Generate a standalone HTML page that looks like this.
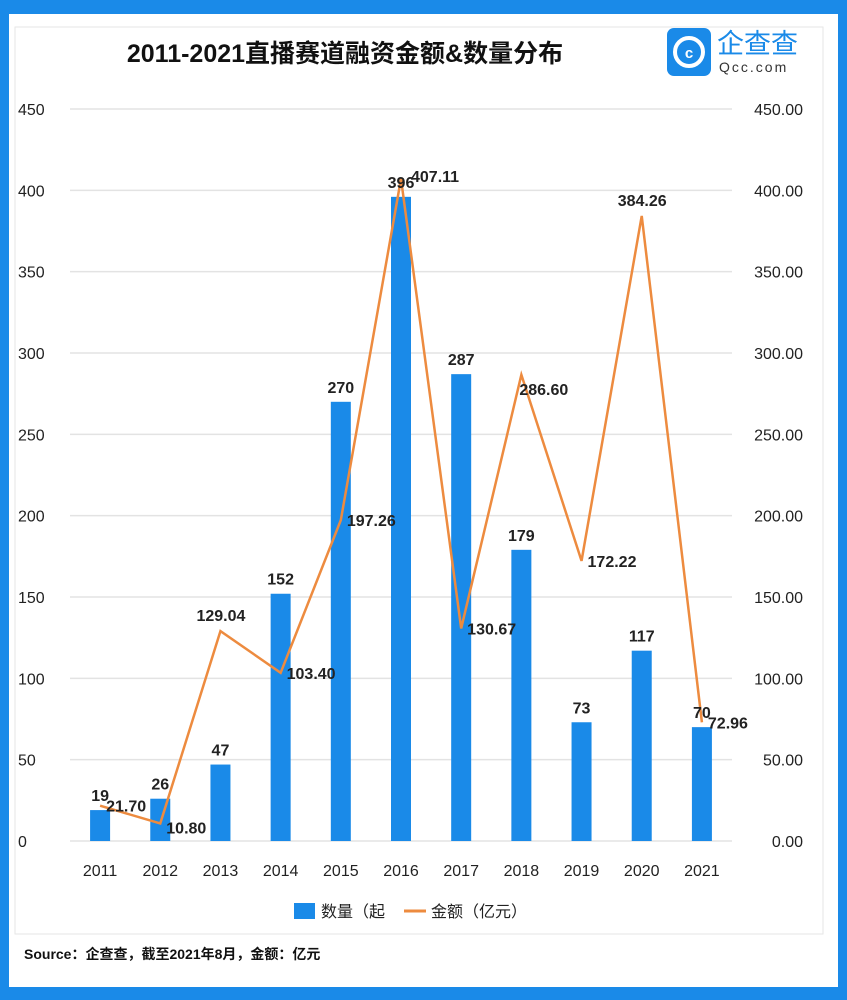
<!DOCTYPE html>
<html><head><meta charset="utf-8"><style>
body{margin:0;width:847px;height:1000px;background:#1a8ae8;font-family:"Liberation Sans","Noto Sans CJK SC",sans-serif;overflow:hidden}
#panel{position:absolute;left:9px;top:14px;width:829px;height:973px;background:#fff}
svg text{font-family:"Liberation Sans","Noto Sans CJK SC",sans-serif}
</style></head><body>
<div id="panel"></div>
<svg id="chart" width="847" height="1000" style="position:absolute;left:0;top:0">
<rect x="15" y="27" width="808" height="907" fill="none" stroke="#e6e6e6"/>
<text x="345" y="62" font-size="25" font-weight="bold" text-anchor="middle" fill="#111">2011-2021直播赛道融资金额&amp;数量分布</text>
<g>
<rect x="667" y="28" width="44" height="48" rx="7" fill="#1a8ae8"/>
<circle cx="689" cy="52" r="14" fill="none" stroke="#fff" stroke-width="4"/>
<text x="689" y="58" font-size="15" font-weight="bold" fill="#fff" text-anchor="middle">c</text>
<text x="717" y="53" font-size="27" fill="#1a8ae8">企查查</text>
<text x="719" y="72" font-size="14" fill="#333" letter-spacing="2">Qcc.com</text>
</g>
<g id="grid"></g><g id="bars"></g><g id="line"></g><g id="labels"></g>
<g>
<rect x="294" y="903" width="21" height="16" fill="#1a8ae8"/>
<text x="321" y="917" font-size="16" fill="#222">数量（起</text>
<line x1="404" y1="911" x2="426" y2="911" stroke="#ed8b3f" stroke-width="3"/>
<text x="431" y="917" font-size="16" fill="#222">金额（亿元）</text>
</g>
<text x="24" y="959" font-size="14" font-weight="bold" fill="#111">Source：企查查，截至2021年8月，金额：亿元</text>
</svg>
<script>
const categories=["2011","2012","2013","2014","2015","2016","2017","2018","2019","2020","2021"];
const counts=[19,26,47,152,270,396,287,179,73,117,70];
const amounts=[21.70,10.80,129.04,103.40,197.26,407.11,130.67,286.60,172.22,384.26,72.96];
const leftTicks=[0,50,100,150,200,250,300,350,400,450];
const rightTicks=["0.00","50.00","100.00","150.00","200.00","250.00","300.00","350.00","400.00","450.00"];
const NS="http://www.w3.org/2000/svg";
const y0=841,ytop=109,xmin=70,xmax=732;
const yL=v=>y0-(v/450)*(y0-ytop);
const yR=v=>y0-(v/450)*(y0-ytop);
const step=(xmax-xmin)/categories.length;
const xC=i=>xmin+step*(i+0.5);
function mk(t,a,p){const e=document.createElementNS(NS,t);for(const k in a)e.setAttribute(k,a[k]);document.getElementById(p).appendChild(e);return e;}
leftTicks.forEach((v,i)=>{
 const g=mk('line',{x1:xmin,x2:xmax,y1:yL(v),y2:yL(v),stroke:'#e3e3e3','stroke-width':1.5},'grid');
 
 
 const t=mk('text',{x:18,y:yL(v)+6,'font-size':16,fill:'#222'},'grid');t.textContent=v;
 
 
 const r=mk('text',{x:803,y:yR(v)+6,'font-size':16,fill:'#222','text-anchor':'end'},'grid');r.textContent=rightTicks[i];
 
 
});
let pts=[];
categories.forEach((c,i)=>{
 const x=xC(i);
 const b=mk('rect',{x:x-10,y:yL(counts[i]),width:20,height:y0-yL(counts[i]),fill:'#1a8ae8'},'bars');
 
 
 const t=mk('text',{x:x,y:876,'font-size':16,fill:'#222','text-anchor':'middle'},'labels');t.textContent=c;
 
 
 const cl=mk('text',{x:x,y:yL(counts[i])-9,'font-size':16,'font-weight':'bold',fill:'#222','text-anchor':'middle'},'labels');cl.textContent=counts[i];
 
 
 const al=mk('text',{x:x+6,y:yR(amounts[i])+6,'font-size':16,'font-weight':'bold',fill:'#222'},'labels');al.textContent=amounts[i].toFixed(2);
 if(i==2||i==9){al.setAttribute('x',x-24);al.setAttribute('y',yR(amounts[i])-10);}
 if(i==7){al.setAttribute('x',x-2);al.setAttribute('y',yR(amounts[i])+20);}
 if(i==5){al.setAttribute('x',x+10);al.setAttribute('y',yR(amounts[i])+3);}
 if(i==1){al.setAttribute('y',yR(amounts[i])+10);}
 
 
 pts.push(x+','+yR(amounts[i]));
});
const l=mk('polyline',{points:pts.join(' '),fill:'none',stroke:'#ed8b3f','stroke-width':2.5},'line');


</script>
</body></html>
